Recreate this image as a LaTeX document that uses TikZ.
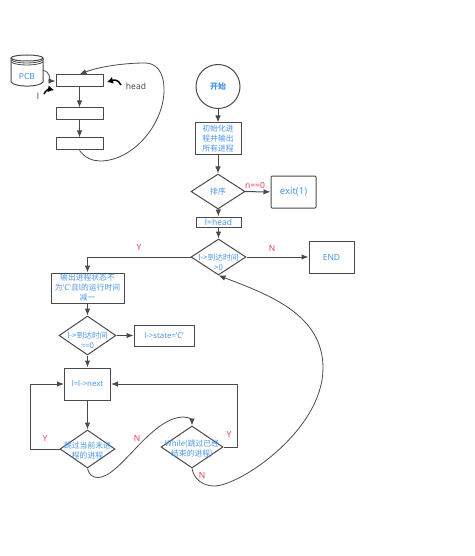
\documentclass[tikz,border=0pt]{standalone}
\usepackage{fontspec}
\setmainfont{Noto Sans}
\newfontfamily\cjk{Noto Sans CJK SC}
\definecolor{labelblue}{HTML}{4A94E8}
\definecolor{flagred}{HTML}{E8404E}
\definecolor{edgegray}{HTML}{4A4A4A}
\usetikzlibrary{arrows.meta, shapes.geometric}

\begin{document}
\begin{tikzpicture}[x=1pt, y=-1pt, >={Latex[length=7pt,width=5.5pt]},
  line/.style={draw=edgegray, line width=1pt},
  curve/.style={draw=edgegray, line width=0.8pt},
  bold/.style={draw=black, line width=1.5pt, -{Latex[length=6pt,width=7pt]}},
  txt/.style={text=labelblue, font=\fontsize{7.8}{10}\selectfont\cjk, align=center, inner sep=0pt},
  box/.style={line, rectangle, inner sep=0pt},
  dia/.style={line, diamond, inner sep=0pt},
  flag/.style={text=flagred, font=\fontsize{8.5}{10}\selectfont, inner sep=0pt},
  note/.style={text=edgegray, font=\fontsize{8.5}{10}\selectfont, inner sep=0pt}]

\useasboundingbox (0,0) rectangle (474,556);

% ---------- linked list ----------
\node[inner sep=0pt, minimum width=32pt, minimum height=31pt] (pcb) at (27,70.5) {};
\node[txt, font=\fontsize{8.5}{10}\selectfont] (pcbtxt) at (27,76) {PCB};
\draw[line] (27,58) ellipse (16 and 3);
\draw[line] (11,58) -- (11,82) .. controls (15,87.5) and (39,87.5) .. (43,82) -- (43,58);
\draw[curve] (11,60) .. controls (16,64) and (38,64) .. (43,60);
\draw[curve] (11,62) .. controls (16,66) and (38,66) .. (43,62);
\node[box, minimum width=47pt, minimum height=12pt] (first)  at (79.5,81)  {};
\node[box, minimum width=47pt, minimum height=12pt] (second) at (79.5,114) {};
\node[box, minimum width=47pt, minimum height=12pt] (third)  at (79.5,144) {};
\draw[line, ->] (first) -- (second);
\draw[line, ->] (second) -- (third);
\draw[curve, ->] (pcb.east) .. controls (50,71) and (51,81) .. (first.west);
\draw[curve, ->] (third.south) .. controls (85,158) and (93,161) .. (100,161)
  .. controls (133,161) and (164,124) .. (164,90)
  .. controls (164,70) and (155,63) .. (145,63)
  .. controls (120,63) and (95,68) .. (first.north);

% pointers
\node[note] (headtxt) at (136,86) {head};
\node[note] (ltxt) at (38,96) {l};
\coordinate (headtip) at (107,82);
\coordinate (headend) at (121,85);
\coordinate (ltip) at (54,90);
\coordinate (lend) at (44,94);
\draw[bold] (headend) .. controls (118,79) and (114,80) .. (headtip);
\draw[bold] (lend) .. controls (46,90) and (49,89) .. (ltip);

% ---------- main column ----------
\node[line, circle, minimum size=44pt, inner sep=0pt, txt, font=\fontsize{8}{10}\selectfont\cjk\bfseries] (start) at (218,86.5) {开始};
\node[box, txt, minimum width=46pt, minimum height=32pt] (init) at (218,139) {初始化进\\程并输出\\所有进程};
\node[dia, minimum width=54pt, minimum height=35pt, label={[txt]center:排序}] (sort) at (218,191.5) {};
\node[box, rounded corners=1pt, txt, minimum width=45pt, minimum height=32pt, font=\fontsize{9.5}{10}\selectfont] (exit) at (293.5,192) {exit(1)};
\node[box, txt, minimum width=45pt, minimum height=10pt, font=\fontsize{8.5}{10}\selectfont] (lhead) at (218.5,222) {l=head};
\node[dia, minimum width=55pt, minimum height=36pt, label={[txt, yshift=-5pt]center:{l->到达时间\\>0}}] (arrive) at (218.5,257) {};
\node[box, txt, minimum width=45pt, minimum height=32pt, font=\fontsize{8.5}{10}\selectfont] (end) at (331.5,257) {END};

\draw[line, ->] (start) -- (init);
\draw[line, ->] (init) -- (sort);
\draw[line, ->] (sort) -- (exit);
\draw[line, ->] (sort) -- (lhead);
\draw[line, ->] (lhead) -- (arrive);
\draw[line, ->] (arrive) -- (end);
\node[flag] (nzero) at (255,185) {n==0};
\node[flag] (nend) at (272,248) {N};

% ---------- left branch ----------
\node[box, txt, minimum width=73pt, minimum height=30pt] (output) at (87.5,288) {输出进程状态不\\为{\fontspec{Noto Sans}'C'}且l的运行时间\\减一};
\node[dia, minimum width=57pt, minimum height=39pt, label={[txt, yshift=-5pt]center:{l->到达时间\\==0}}] (zero) at (87.5,335.5) {};
\node[box, txt, minimum width=60pt, minimum height=21pt, font=\fontsize{7.8}{10}\selectfont] (state) at (164,335.5) {l->state='C'};
\node[box, txt, minimum width=46pt, minimum height=32pt, font=\fontsize{7.8}{10}\selectfont] (next) at (87.5,384) {l=l->next};
\node[dia, minimum width=55pt, minimum height=38pt, label={[txt, yshift=-1.5pt]center:{跳过当前未进\\程的进程}}] (skipa) at (87.5,449) {};
\node[dia, minimum width=62pt, minimum height=42pt, label={[txt, yshift=-1.5pt]center:{While(跳过已经\\结束的进程)}}] (skipb) at (192,447) {};

\draw[line, ->] (arrive.west) -| (output.north);
\draw[line, ->] (output) -- (zero);
\draw[line, ->] (zero) -- (state);
\draw[line, ->] (zero) -- (next);
\draw[line, ->] (next) -- (skipa);
\draw[line, ->] (skipa.west) -- ++(-29,0) |- (next.west);
\draw[line, ->] (skipb.east) -- ++(14,0) |- (next.east);
\node[flag] (yarrive) at (139,247) {Y};
\node[flag] (yskipa) at (45,438) {Y};
\node[flag] (yskipb) at (229,434) {Y};
\node[flag] (nskipa) at (137,438) {N};
\node[flag] (nskipb) at (202,475) {N};

% curved returns
\draw[curve, ->] (skipa.south) .. controls (89,475) and (93,477.5) .. (98,477.5)
  .. controls (120,477.5) and (150,418) .. (183,417)
  .. controls (189,417) and (192,420) .. (skipb.north);
\draw[curve, ->] (skipb.south) .. controls (194,480) and (204,486) .. (214,486)
  .. controls (240,486) and (323,430) .. (323,368)
  .. controls (323,315) and (270,295) .. (arrive.south);

\end{tikzpicture}
\end{document}
